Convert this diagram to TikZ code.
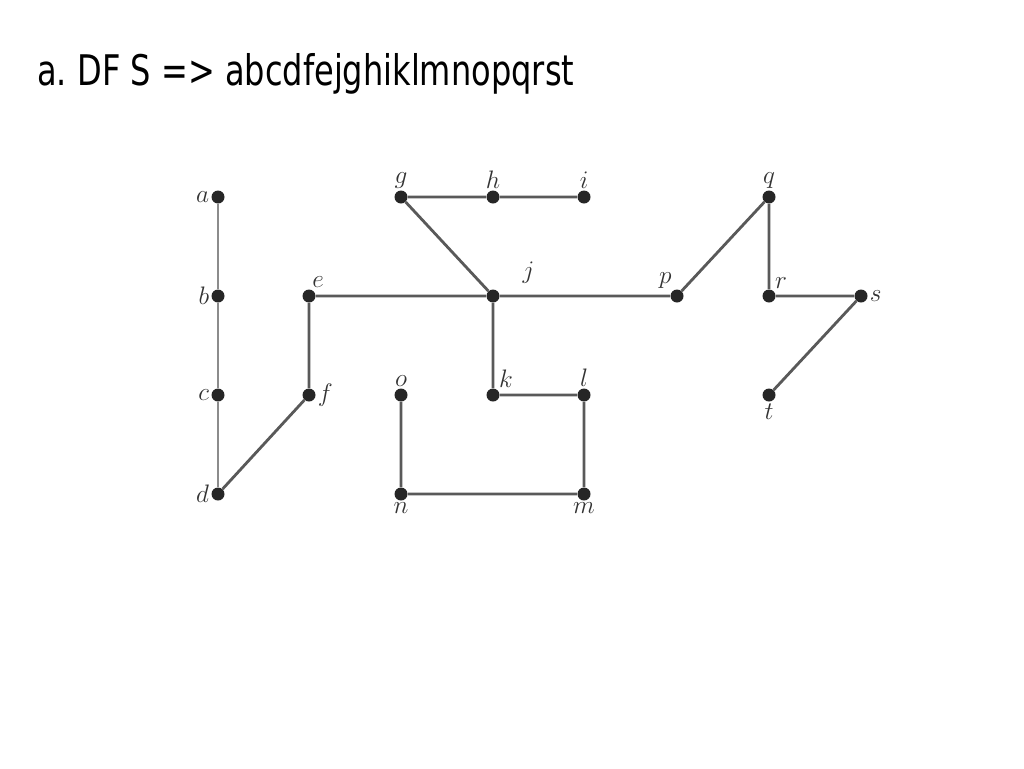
\documentclass[tikz,border=0pt]{standalone}
\usepackage{fontspec}
\setmainfont{DejaVu Sans}
\usepackage{graphicx}
\usepackage{tikz}
\usetikzlibrary{positioning}

\begin{document}
\begin{tikzpicture}[x={(0.02cm,0)}, y={(0,-0.02cm)},
    dot/.style={circle, fill=black!85, inner sep=0pt, minimum size=0.26cm},
    lab/.style={font=\fontsize{14}{16}\selectfont, inner sep=1pt, text=black!80},
    edge/.style={draw=black!65, line width=1.6pt}]
    \useasboundingbox (0,0) rectangle (1024,768);
    \node[anchor=base west, inner sep=0pt, font=\fontsize{24}{28}\selectfont] (title) at (37,85) {\scalebox{0.76}[1]{a.~DF S => abcdfejghiklmnopqrst}};
    % left column
    \node[dot, label={[lab]left:$a$}] (a) at (218,197) {};
    \node[dot, label={[lab]left:$b$}] (b) at (218,296) {};
    \node[dot, label={[lab]left:$c$}] (c) at (218,395) {};
    \node[dot, label={[lab]left:$d$}] (d) at (218,494) {};
    \node[dot, label={[lab]80:$e$}] (e) at (309,296) {};
    \node[dot, label={[lab]right:$f$}] (f) at (309,395) {};
    % middle
    \node[dot, label={[lab]above:$g$}] (g) at (401,197) {};
    \node[dot, label={[lab]above:$h$}] (h) at (493,197) {};
    \node[dot, label={[lab]above:$i$}] (i) at (584,197) {};
    \node[dot, label={[lab,label distance=0.45cm]20:$j$}] (j) at (493,296) {};
    \node[dot, label={[lab]55:$k$}] (k) at (493,395) {};
    \node[dot, label={[lab]above:$l$}] (l) at (584,395) {};
    \node[dot, label={[lab]above:$o$}] (o) at (401,395) {};
    \node[dot, label={[lab]below:$n$}] (n) at (401,494) {};
    \node[dot, label={[lab]below:$m$}] (m) at (584,494) {};
    % right
    \node[dot, label={[lab]120:$p$}] (p) at (677,296) {};
    \node[dot, label={[lab]above:$q$}] (q) at (769,197) {};
    \node[dot, label={[lab]55:$r$}] (r) at (769,296) {};
    \node[dot, label={[lab]right:$s$}] (s) at (861,296) {};
    \node[dot, label={[lab]below:$t$}] (t) at (769,395) {};
    \draw[edge, draw=black!45] (a) -- (b) -- (c) -- (d);
    \draw[edge]
    (d) -- (f)
    (f) -- (e)
    (e) -- (j)
    (j) -- (g)
    (g) -- (h)
    (h) -- (i)
    (j) -- (k)
    (k) -- (l)
    (l) -- (m)
    (m) -- (n)
    (n) -- (o)
    (j) -- (p)
    (p) -- (q)
    (q) -- (r)
    (r) -- (s)
    (s) -- (t);
\end{tikzpicture}
\end{document}
